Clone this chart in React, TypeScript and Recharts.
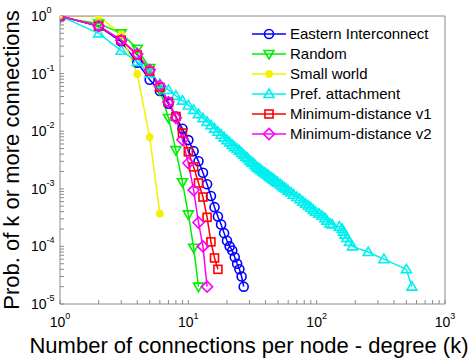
import React from 'react';
import { LineChart, Line, XAxis, YAxis } from 'recharts';

// degree k and P(K >= k) for each network
const easternK = [1, 2, 3, 4, 5, 6, 7, 8, 9, 10, 11, 12, 13, 14, 15, 16, 17, 18, 19, 20, 21, 22, 23, 24, 25, 26, 27];
const easternP = [1, 0.66, 0.36, 0.155, 0.078, 0.05, 0.03, 0.018, 0.011, 0.007, 0.0045, 0.003, 0.0019, 0.0012, 0.00075, 0.00048, 0.00033, 0.00024, 0.00017, 0.000125, 0.0001, 0.000085, 0.000065, 0.00005, 0.00004, 0.00003, 0.00002];

const randomK = [1, 2, 3, 4, 5, 6, 7, 8, 9, 10, 11, 12];
const randomP = [0.93, 0.74, 0.5, 0.27, 0.125, 0.052, 0.017, 0.0047, 0.0013, 0.00036, 0.000095, 0.00002];

const smallWorldK = [1, 2, 3, 4, 5, 6];
const smallWorldP = [1, 1, 0.48, 0.098, 0.0079, 0.00037];

const prefK = [
  1, 2, 3, 4, 5, 6, 7, 8, 9, 10, 11, 12, 13, 14, 15, 16, 17, 18, 19, 20, 21, 22, 23, 24, 25, 26, 27, 28, 29, 30,
  31, 32, 33, 34, 35, 36, 37, 38, 39, 40, 41, 42, 43, 44, 45, 46, 47, 48, 49, 50, 52, 54, 56, 58, 60, 63, 66, 70,
  74, 78, 82, 86, 90, 94, 98, 104, 110, 116, 120, 127, 132, 150, 158, 162, 166, 172, 180, 190, 252, 334, 500, 552,
];
const prefP = [
  1, 0.5, 0.25, 0.16, 0.1, 0.066, 0.052, 0.041, 0.034, 0.028, 0.0235, 0.0198, 0.0168, 0.0145, 0.0127, 0.0111,
  0.0098, 0.0087, 0.0078, 0.007, 0.0064, 0.0058, 0.0053, 0.0049, 0.0046, 0.0042, 0.0039, 0.0036, 0.0034, 0.0031,
  0.0029, 0.0028, 0.0026, 0.0024, 0.0023, 0.0022, 0.0021, 0.002, 0.00192, 0.00184, 0.00177, 0.0017, 0.00163,
  0.00157, 0.00151, 0.00146, 0.00141, 0.00136, 0.00131, 0.00127, 0.00119, 0.00111, 0.00105, 0.00099, 0.00093,
  0.00086, 0.00079, 0.00072, 0.00066, 0.0006, 0.00055, 0.00051, 0.00047, 0.00043, 0.0004, 0.00037, 0.00034,
  0.00031, 0.00028, 0.00025, 0.00024, 0.00022, 0.0002, 0.00018, 0.00016, 0.00014, 0.00012, 0.0001, 0.00008,
  0.00006, 0.00004, 0.00002,
];

const minV1K = [1, 2, 3, 4, 5, 6, 7, 8, 9, 10, 11, 12, 13, 14, 15, 16, 17];
const minV1P = [1, 0.67, 0.38, 0.21, 0.11, 0.058, 0.032, 0.018, 0.0093, 0.0044, 0.0024, 0.00126, 0.00072, 0.00032, 0.00012, 0.000063, 0.00004];

const minV2K = [1, 2, 3, 4, 5, 6, 7, 8, 9, 10, 11, 12, 13, 14];
const minV2P = [1, 0.67, 0.38, 0.22, 0.115, 0.061, 0.032, 0.017, 0.0071, 0.0028, 0.00095, 0.00026, 0.0001, 0.00002];

const xMajor = [1, 10, 100, 1000];
const yMajor = [0.00001, 0.0001, 0.001, 0.01, 0.1, 1];
const minorSteps = [2, 3, 4, 5, 6, 7, 8, 9];

const withMinor = (majors: number[]) =>
  majors.flatMap((m, i) => (i === majors.length - 1 ? [m] : [m, ...minorSteps.map(s => m * s)]));
const isMajor = (v: number) => Math.abs(Math.log10(v) - Math.round(Math.log10(v))) < 1e-6;
const rows = (ks: number[], ps: number[]) => ks.map((k, i) => ({ k, p: ps[i] }));

const FONT = '"Liberation Sans", Arial, Helvetica, sans-serif';
const FRAME = '#8a8a8a';

type Shape = 'o' | 'v' | '.' | '^' | 's' | 'd';

const series: { name: string; color: string; shape: Shape; data: { k: number; p: number }[] }[] = [
  { name: 'Eastern Interconnect', color: '#0000ff', shape: 'o', data: rows(easternK, easternP) },
  { name: 'Random', color: '#00ee00', shape: 'v', data: rows(randomK, randomP) },
  { name: 'Small world', color: '#f2f200', shape: '.', data: rows(smallWorldK, smallWorldP) },
  { name: 'Pref. attachment', color: '#00f0f0', shape: '^', data: rows(prefK, prefP) },
  { name: 'Minimum-distance v1', color: '#ff0000', shape: 's', data: rows(minV1K, minV1P) },
  { name: 'Minimum-distance v2', color: '#ff00ff', shape: 'd', data: rows(minV2K, minV2P) },
];

function Marker({ shape, cx, cy, color }: { shape: Shape; cx: number; cy: number; color: string }) {
  const sw = 1.6;
  if (shape === 'o') return <circle cx={cx} cy={cy} r={4.5} fill="none" stroke={color} strokeWidth={sw} />;
  if (shape === '.') return <circle cx={cx} cy={cy} r={3.5} fill={color} stroke={color} strokeWidth={1} />;
  if (shape === 's') return <rect x={cx - 4} y={cy - 4} width={8} height={8} fill="none" stroke={color} strokeWidth={sw} />;
  let pts = '';
  if (shape === 'v') pts = `${cx - 5},${cy - 3.5} ${cx + 5},${cy - 3.5} ${cx},${cy + 5}`;
  if (shape === '^') pts = `${cx - 5},${cy + 3.5} ${cx + 5},${cy + 3.5} ${cx},${cy - 5}`;
  if (shape === 'd') pts = `${cx - 5.5},${cy} ${cx},${cy - 5.5} ${cx + 5.5},${cy} ${cx},${cy + 5.5}`;
  return <polygon points={pts} fill="none" stroke={color} strokeWidth={sw} />;
}

const XTick = (props: any) => {
  const { x, y, payload } = props;
  if (!isMajor(payload.value)) return null;
  const e = Math.round(Math.log10(payload.value));
  return (
    <text x={x} y={y + 27} textAnchor="middle" fontSize={14} fill="#000" fontFamily={FONT}>
      10
      <tspan dy={-8} fontSize={9}>
        {e}
      </tspan>
    </text>
  );
};

const YTick = (props: any) => {
  const { x, y, payload } = props;
  if (!isMajor(payload.value)) return null;
  const e = Math.round(Math.log10(payload.value));
  return (
    <text x={x - 33} y={y + 5} textAnchor="start" fontSize={14} fill="#000" fontFamily={FONT}>
      10
      <tspan dy={-8} fontSize={9}>
        {e}
      </tspan>
    </text>
  );
};

const xTicks = withMinor(xMajor);
const yTicks = withMinor(yMajor);

export default function App() {
  return (
    <div style={{ position: 'absolute', left: 0, top: 0, width: 474, height: 361, background: '#fff' }}>
      <LineChart width={474} height={361} margin={{ top: 15, right: 28, bottom: 0, left: 0 }}>
        <XAxis
          xAxisId="x"
          dataKey="k"
          type="number"
          scale="log"
          domain={[1, 1000]}
          allowDataOverflow
          ticks={xTicks}
          interval={0}
          height={57}
          tickSize={-4}
          tickMargin={0}
          stroke={FRAME}
          tick={<XTick />}
        />
        <XAxis
          xAxisId="top"
          orientation="top"
          dataKey="k"
          type="number"
          scale="log"
          domain={[1, 1000]}
          allowDataOverflow
          ticks={xTicks}
          interval={0}
          height={1}
          tickSize={-4}
          stroke={FRAME}
          tick={false}
        />
        <YAxis
          yAxisId="y"
          dataKey="p"
          type="number"
          scale="log"
          domain={[0.00001, 1]}
          allowDataOverflow
          ticks={yTicks}
          interval={0}
          width={60}
          tickSize={-4}
          tickMargin={0}
          stroke={FRAME}
          tick={<YTick />}
        />
        <YAxis
          yAxisId="right"
          orientation="right"
          dataKey="p"
          type="number"
          scale="log"
          domain={[0.00001, 1]}
          allowDataOverflow
          ticks={yTicks}
          interval={0}
          width={1}
          tickSize={-4}
          stroke={FRAME}
          tick={false}
        />
        <Line
          xAxisId="top"
          yAxisId="right"
          data={series[5].data}
          dataKey="p"
          stroke="none"
          dot={false}
          activeDot={false}
          isAnimationActive={false}
        />
        {series.map(s => (
          <Line
            key={s.name}
            xAxisId="x"
            yAxisId="y"
            data={s.data}
            dataKey="p"
            name={s.name}
            type="linear"
            stroke={s.color}
            strokeWidth={1.5}
            isAnimationActive={false}
            activeDot={false}
            dot={(p: any) => (
              <Marker key={`${s.name}-${p.index}`} shape={s.shape} cx={p.cx} cy={p.cy} color={s.color} />
            )}
          />
        ))}
      </LineChart>
      <svg
        width={474}
        height={361}
        style={{ position: 'absolute', left: 0, top: 0, pointerEvents: 'none' }}
        fontFamily={FONT}
      >
        {series.map((s, i) => {
          const y = 34 + i * 20;
          return (
            <g key={s.name}>
              <line x1={252} x2={286} y1={y} y2={y} stroke={s.color} strokeWidth={1.5} />
              <Marker shape={s.shape} cx={269} cy={y} color={s.color} />
              <text x={290} y={y + 5} fontSize={15} fill="#000">
                {s.name}
              </text>
            </g>
          );
        })}
        <text x={249} y={353} textAnchor="middle" fontSize={22} fill="#000">
          Number of connections per node - degree (k)
        </text>
        <text x={19} y={160} textAnchor="middle" fontSize={22} fill="#000" transform="rotate(-90 19 160)">
          Prob. of k or more connections
        </text>
      </svg>
    </div>
  );
}
